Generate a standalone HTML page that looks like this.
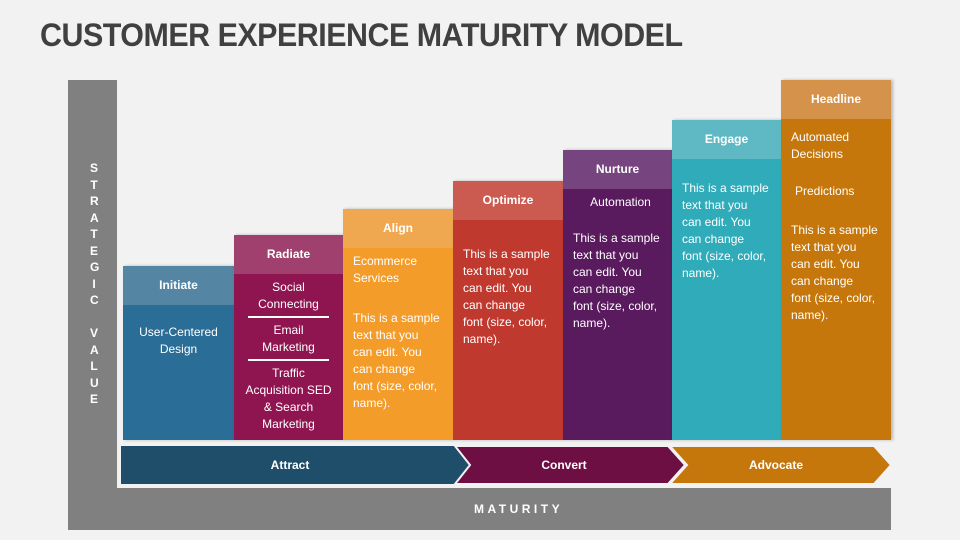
<!DOCTYPE html>
<html><head><meta charset="utf-8"><style>
*{margin:0;padding:0;box-sizing:border-box}
body{width:960px;height:540px;background:#f2f2f2;position:relative;overflow:hidden;font-family:"Liberation Sans",sans-serif;color:#fff}
.a{position:absolute}
.title{left:40px;top:17px;font-size:32px;font-weight:bold;color:#404040;white-space:nowrap;transform:scaleX(0.95);transform-origin:left top;letter-spacing:-0.5px}
.col{position:absolute;bottom:100px;box-shadow:2px 0 3px rgba(0,0,0,.25)}
.hd{height:39px;font-weight:bold;font-size:12px;text-align:center;line-height:39px}
.bd{font-size:12px;line-height:17px;padding:5px 4px 0 10px;white-space:nowrap}
.c{text-align:center}
.sep{height:2px;background:#fff;margin:3px 10px 4px}
</style></head><body>
<div class="a title">CUSTOMER EXPERIENCE MATURITY MODEL</div>
<div class="a" style="left:68px;top:80px;width:49px;height:450px;background:#808080"></div>
<div class="a" style="left:68px;top:488px;width:823px;height:42px;background:#808080"></div>
<div class="a" style="left:90px;top:160px;width:8px;font-size:12px;font-weight:bold;line-height:16.5px;text-align:center">S<br>T<br>R<br>A<br>T<br>E<br>G<br>I<br>C<br><br>V<br>A<br>L<br>U<br>E</div>
<div class="a" style="left:474px;top:502px;font-size:12px;font-weight:bold;letter-spacing:3.5px">MATURITY</div>

<div class="col" style="left:123px;top:266px;width:111px;height:174px;background:#2a6d96"><div class="hd" style="background:#5485a3">Initiate</div><div class="bd c" style="padding:19px 4px 0">User-Centered<br>Design</div></div>
<div class="col" style="left:234px;top:235px;width:109px;height:205px;background:#8f1551"><div class="hd" style="background:#a0406f">Radiate</div><div class="bd c" style="padding:5px 4px 0">Social<br>Connecting<div class="sep"></div>Email<br>Marketing<div class="sep"></div>Traffic<br>Acquisition SED<br>&amp; Search<br>Marketing</div></div>
<div class="col" style="left:343px;top:209px;width:110px;height:231px;background:#f39c2a"><div class="hd" style="background:#f0a850">Align</div><div class="bd">Ecommerce<br>Services<div style="margin-top:23px">This is a sample<br>text that you<br>can edit. You<br>can change<br>font (size, color,<br>name).</div></div></div>
<div class="col" style="left:453px;top:181px;width:110px;height:259px;background:#c0392f"><div class="hd" style="background:#cb5a50">Optimize</div><div class="bd" style="padding-top:26px">This is a sample<br>text that you<br>can edit. You<br>can change<br>font (size, color,<br>name).</div></div>
<div class="col" style="left:563px;top:150px;width:109px;height:290px;background:#5a1a5e"><div class="hd" style="background:#76447e">Nurture</div><div class="bd"><div class="c">Automation</div><div style="margin-top:19px">This is a sample<br>text that you<br>can edit. You<br>can change<br>font (size, color,<br>name).</div></div></div>
<div class="col" style="left:672px;top:120px;width:109px;height:320px;background:#30abb9"><div class="hd" style="background:#5fb9c4">Engage</div><div class="bd" style="padding-top:21px">This is a sample<br>text that you<br>can edit. You<br>can change<br>font (size, color,<br>name).</div></div>
<div class="col" style="left:781px;top:80px;width:110px;height:360px;background:#c5770c"><div class="hd" style="background:#d4924a">Headline</div><div class="bd" style="padding-top:10px">Automated<br>Decisions<div style="margin:20px 0 0 4px">Predictions</div><div style="margin-top:22px">This is a sample<br>text that you<br>can edit. You<br>can change<br>font (size, color,<br>name).</div></div></div>

<svg class="a" style="left:0;top:0" width="960" height="540">
<polygon points="121,446 455,446 470,465 455,484 121,484" fill="#1f4e6b"/>
<polygon points="455,446 668,446 685,465 668,484 455,484 470,465" fill="#6d0f42" stroke="#f2f2f2" stroke-width="2"/>
<polygon points="670,446 874,446 891,465 874,484 670,484 687,465" fill="#c5770c" stroke="#f2f2f2" stroke-width="2"/>
<g font-family="Liberation Sans" font-size="12" font-weight="bold" fill="#fff" text-anchor="middle">
<text x="290" y="469">Attract</text><text x="564" y="469">Convert</text><text x="776" y="469">Advocate</text></g>
</svg>
</body></html>
